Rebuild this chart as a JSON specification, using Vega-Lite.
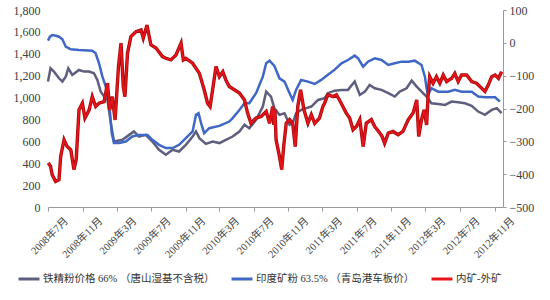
{
  "$schema": "https://vega.github.io/schema/vega-lite/v6.json",
  "width": 455,
  "height": 197,
  "autosize": "none",
  "padding": {"left": 48, "top": 10, "right": 47, "bottom": 93},
  "background": "white",
  "config": {
    "view": {"stroke": null},
    "axis": {"labelFont": "Liberation Serif, Noto Sans CJK SC", "labelColor": "#404040", "grid": false, "title": null},
    "legend": {"labelFont": "Liberation Serif, Noto Sans CJK SC", "labelFontSize": 10.5, "labelColor": "#333333", "labelLimit": 0}
  },
  "datasets": {
    "gray": [
      {"date": "2008-07-01", "value": 1146}, {"date": "2008-07-10", "value": 1268}, {"date": "2008-07-22", "value": 1237},
      {"date": "2008-08-09", "value": 1176}, {"date": "2008-08-21", "value": 1146}, {"date": "2008-09-02", "value": 1191},
      {"date": "2008-09-11", "value": 1268}, {"date": "2008-09-25", "value": 1207}, {"date": "2008-10-19", "value": 1252},
      {"date": "2008-11-06", "value": 1237}, {"date": "2008-11-24", "value": 1237}, {"date": "2008-12-11", "value": 1222},
      {"date": "2008-12-23", "value": 1161}, {"date": "2009-01-04", "value": 1054}, {"date": "2009-01-16", "value": 1009},
      {"date": "2009-01-28", "value": 978}, {"date": "2009-02-09", "value": 766}, {"date": "2009-02-20", "value": 598},
      {"date": "2009-03-22", "value": 614}, {"date": "2009-04-15", "value": 659}, {"date": "2009-05-02", "value": 690},
      {"date": "2009-05-20", "value": 644}, {"date": "2009-06-13", "value": 659}, {"date": "2009-07-06", "value": 598},
      {"date": "2009-07-30", "value": 523}, {"date": "2009-08-23", "value": 477}, {"date": "2009-09-16", "value": 523},
      {"date": "2009-10-09", "value": 507}, {"date": "2009-11-02", "value": 568}, {"date": "2009-11-26", "value": 644},
      {"date": "2009-12-08", "value": 690}, {"date": "2009-12-20", "value": 629}, {"date": "2010-01-12", "value": 577},
      {"date": "2010-02-05", "value": 598}, {"date": "2010-03-01", "value": 584}, {"date": "2010-03-24", "value": 614},
      {"date": "2010-04-17", "value": 644}, {"date": "2010-05-11", "value": 690}, {"date": "2010-05-29", "value": 751},
      {"date": "2010-06-15", "value": 720}, {"date": "2010-07-09", "value": 796}, {"date": "2010-08-02", "value": 918},
      {"date": "2010-08-14", "value": 1054}, {"date": "2010-08-31", "value": 1009}, {"date": "2010-09-12", "value": 903},
      {"date": "2010-09-30", "value": 842}, {"date": "2010-10-18", "value": 857}, {"date": "2010-11-05", "value": 751},
      {"date": "2010-11-16", "value": 766}, {"date": "2010-11-28", "value": 857}, {"date": "2010-12-16", "value": 887},
      {"date": "2011-01-03", "value": 903}, {"date": "2011-01-21", "value": 918}, {"date": "2011-02-14", "value": 978},
      {"date": "2011-03-09", "value": 994}, {"date": "2011-03-21", "value": 1040}, {"date": "2011-04-14", "value": 1063},
      {"date": "2011-05-08", "value": 1070}, {"date": "2011-05-31", "value": 1070}, {"date": "2011-06-24", "value": 1146},
      {"date": "2011-07-12", "value": 1024}, {"date": "2011-07-30", "value": 1054}, {"date": "2011-08-16", "value": 1115},
      {"date": "2011-09-03", "value": 1085}, {"date": "2011-09-27", "value": 1070}, {"date": "2011-10-21", "value": 1040},
      {"date": "2011-11-13", "value": 1009}, {"date": "2011-12-01", "value": 1054}, {"date": "2011-12-25", "value": 1085},
      {"date": "2012-01-12", "value": 1155}, {"date": "2012-01-30", "value": 1100}, {"date": "2012-02-16", "value": 1054},
      {"date": "2012-03-05", "value": 1009}, {"date": "2012-03-22", "value": 948}, {"date": "2012-04-15", "value": 942},
      {"date": "2012-05-09", "value": 933}, {"date": "2012-06-02", "value": 963}, {"date": "2012-06-25", "value": 957},
      {"date": "2012-07-19", "value": 948}, {"date": "2012-08-12", "value": 925}, {"date": "2012-09-04", "value": 872},
      {"date": "2012-09-28", "value": 842}, {"date": "2012-10-22", "value": 887}, {"date": "2012-11-09", "value": 903},
      {"date": "2012-11-26", "value": 857}
    ],
    "blue": [
      {"date": "2008-07-01", "value": 1520}, {"date": "2008-07-08", "value": 1556}, {"date": "2008-07-16", "value": 1571},
      {"date": "2008-07-29", "value": 1565}, {"date": "2008-08-09", "value": 1556}, {"date": "2008-08-21", "value": 1532},
      {"date": "2008-09-02", "value": 1465}, {"date": "2008-09-20", "value": 1441}, {"date": "2008-10-19", "value": 1435},
      {"date": "2008-12-05", "value": 1428}, {"date": "2008-12-17", "value": 1404}, {"date": "2008-12-29", "value": 1313},
      {"date": "2009-01-10", "value": 1191}, {"date": "2009-01-22", "value": 1100}, {"date": "2009-02-02", "value": 990},
      {"date": "2009-02-12", "value": 675}, {"date": "2009-02-20", "value": 584}, {"date": "2009-03-10", "value": 584},
      {"date": "2009-04-03", "value": 598}, {"date": "2009-04-26", "value": 644}, {"date": "2009-05-20", "value": 659},
      {"date": "2009-06-19", "value": 659}, {"date": "2009-07-06", "value": 614}, {"date": "2009-07-30", "value": 568},
      {"date": "2009-08-23", "value": 538}, {"date": "2009-09-16", "value": 538}, {"date": "2009-10-09", "value": 568},
      {"date": "2009-11-02", "value": 629}, {"date": "2009-11-26", "value": 690}, {"date": "2009-12-08", "value": 842},
      {"date": "2009-12-17", "value": 857}, {"date": "2009-12-26", "value": 766}, {"date": "2010-01-06", "value": 675},
      {"date": "2010-01-24", "value": 720}, {"date": "2010-03-01", "value": 741}, {"date": "2010-04-05", "value": 781},
      {"date": "2010-04-17", "value": 812}, {"date": "2010-05-11", "value": 887}, {"date": "2010-05-29", "value": 948},
      {"date": "2010-06-15", "value": 948}, {"date": "2010-07-09", "value": 1040}, {"date": "2010-08-02", "value": 1191},
      {"date": "2010-08-14", "value": 1313}, {"date": "2010-08-26", "value": 1337}, {"date": "2010-09-12", "value": 1290},
      {"date": "2010-09-30", "value": 1176}, {"date": "2010-10-18", "value": 1146}, {"date": "2010-11-05", "value": 1040},
      {"date": "2010-11-16", "value": 978}, {"date": "2010-11-28", "value": 1070}, {"date": "2010-12-16", "value": 1161},
      {"date": "2011-01-09", "value": 1146}, {"date": "2011-02-02", "value": 1124}, {"date": "2011-02-25", "value": 1161},
      {"date": "2011-03-21", "value": 1209}, {"date": "2011-04-14", "value": 1255}, {"date": "2011-05-08", "value": 1313},
      {"date": "2011-05-31", "value": 1343}, {"date": "2011-06-24", "value": 1383}, {"date": "2011-07-06", "value": 1359},
      {"date": "2011-07-24", "value": 1282}, {"date": "2011-08-10", "value": 1328}, {"date": "2011-09-03", "value": 1359},
      {"date": "2011-09-27", "value": 1343}, {"date": "2011-10-21", "value": 1298}, {"date": "2011-11-13", "value": 1313},
      {"date": "2011-12-07", "value": 1328}, {"date": "2011-12-31", "value": 1328}, {"date": "2012-01-23", "value": 1337},
      {"date": "2012-02-16", "value": 1298}, {"date": "2012-02-28", "value": 1191}, {"date": "2012-03-05", "value": 1085},
      {"date": "2012-03-10", "value": 1024}, {"date": "2012-03-22", "value": 1085}, {"date": "2012-04-15", "value": 1054},
      {"date": "2012-05-21", "value": 1054}, {"date": "2012-06-13", "value": 1070}, {"date": "2012-07-07", "value": 1054},
      {"date": "2012-08-12", "value": 1054}, {"date": "2012-09-04", "value": 1009}, {"date": "2012-09-28", "value": 1003},
      {"date": "2012-11-03", "value": 1003}, {"date": "2012-11-20", "value": 963}
    ],
    "red": [
      {"date": "2008-07-02", "value": -366}, {"date": "2008-07-10", "value": -376}, {"date": "2008-07-16", "value": -402},
      {"date": "2008-07-28", "value": -422}, {"date": "2008-08-09", "value": -417}, {"date": "2008-08-15", "value": -346},
      {"date": "2008-08-27", "value": -295}, {"date": "2008-09-07", "value": -316}, {"date": "2008-09-20", "value": -326},
      {"date": "2008-10-01", "value": -386}, {"date": "2008-10-09", "value": -356}, {"date": "2008-10-19", "value": -204},
      {"date": "2008-10-31", "value": -184}, {"date": "2008-11-09", "value": -229}, {"date": "2008-11-24", "value": -204},
      {"date": "2008-12-05", "value": -164}, {"date": "2008-12-17", "value": -194}, {"date": "2008-12-29", "value": -184},
      {"date": "2009-01-16", "value": -179}, {"date": "2009-01-28", "value": -123}, {"date": "2009-02-05", "value": -204},
      {"date": "2009-02-14", "value": -164}, {"date": "2009-02-24", "value": -235}, {"date": "2009-03-08", "value": -72},
      {"date": "2009-03-17", "value": -1}, {"date": "2009-03-25", "value": -133}, {"date": "2009-03-31", "value": -164},
      {"date": "2009-04-09", "value": -32}, {"date": "2009-04-21", "value": 19}, {"date": "2009-05-09", "value": 34},
      {"date": "2009-05-27", "value": 39}, {"date": "2009-06-04", "value": 14}, {"date": "2009-06-17", "value": 54},
      {"date": "2009-07-01", "value": -6}, {"date": "2009-07-19", "value": -16}, {"date": "2009-08-11", "value": -42},
      {"date": "2009-08-23", "value": -47}, {"date": "2009-09-10", "value": -52}, {"date": "2009-09-28", "value": -37},
      {"date": "2009-10-16", "value": -1}, {"date": "2009-10-24", "value": -52}, {"date": "2009-11-02", "value": -47},
      {"date": "2009-11-26", "value": -62}, {"date": "2009-12-20", "value": -93}, {"date": "2010-01-06", "value": -143},
      {"date": "2010-01-18", "value": -184}, {"date": "2010-01-27", "value": -194}, {"date": "2010-02-05", "value": -143},
      {"date": "2010-02-17", "value": -72}, {"date": "2010-03-01", "value": -103}, {"date": "2010-03-13", "value": -88},
      {"date": "2010-03-24", "value": -113}, {"date": "2010-04-05", "value": -133}, {"date": "2010-04-23", "value": -143},
      {"date": "2010-05-11", "value": -153}, {"date": "2010-05-29", "value": -174}, {"date": "2010-06-09", "value": -214},
      {"date": "2010-06-21", "value": -245}, {"date": "2010-07-09", "value": -229}, {"date": "2010-07-27", "value": -224},
      {"date": "2010-08-14", "value": -209}, {"date": "2010-08-26", "value": -245}, {"date": "2010-09-06", "value": -194},
      {"date": "2010-09-10", "value": -250}, {"date": "2010-09-14", "value": -204}, {"date": "2010-09-18", "value": -295},
      {"date": "2010-09-30", "value": -346}, {"date": "2010-10-08", "value": -386}, {"date": "2010-10-15", "value": -316},
      {"date": "2010-10-24", "value": -245}, {"date": "2010-11-05", "value": -234}, {"date": "2010-11-16", "value": -245},
      {"date": "2010-11-25", "value": -316}, {"date": "2010-12-04", "value": -194}, {"date": "2010-12-14", "value": -143},
      {"date": "2010-12-26", "value": -204}, {"date": "2011-01-09", "value": -245}, {"date": "2011-01-21", "value": -219},
      {"date": "2011-02-02", "value": -245}, {"date": "2011-02-19", "value": -229}, {"date": "2011-03-03", "value": -194},
      {"date": "2011-03-09", "value": -184}, {"date": "2011-03-21", "value": -158}, {"date": "2011-04-08", "value": -164},
      {"date": "2011-04-20", "value": -158}, {"date": "2011-05-01", "value": -174}, {"date": "2011-05-13", "value": -194},
      {"date": "2011-05-25", "value": -214}, {"date": "2011-06-06", "value": -229}, {"date": "2011-06-18", "value": -265},
      {"date": "2011-06-30", "value": -255}, {"date": "2011-07-12", "value": -234}, {"date": "2011-07-24", "value": -316},
      {"date": "2011-08-04", "value": -245}, {"date": "2011-08-22", "value": -234}, {"date": "2011-09-03", "value": -255},
      {"date": "2011-09-17", "value": -270}, {"date": "2011-09-29", "value": -285}, {"date": "2011-10-08", "value": -306},
      {"date": "2011-10-21", "value": -275}, {"date": "2011-11-07", "value": -270}, {"date": "2011-11-25", "value": -280},
      {"date": "2011-12-12", "value": -270}, {"date": "2011-12-31", "value": -234}, {"date": "2012-01-17", "value": -214},
      {"date": "2012-01-30", "value": -174}, {"date": "2012-02-06", "value": -285}, {"date": "2012-02-16", "value": -234},
      {"date": "2012-02-25", "value": -204}, {"date": "2012-03-05", "value": -250}, {"date": "2012-03-10", "value": -164},
      {"date": "2012-03-16", "value": -103}, {"date": "2012-03-28", "value": -123}, {"date": "2012-04-09", "value": -103},
      {"date": "2012-04-21", "value": -123}, {"date": "2012-05-03", "value": -98}, {"date": "2012-05-15", "value": -118},
      {"date": "2012-06-02", "value": -108}, {"date": "2012-06-13", "value": -93}, {"date": "2012-06-25", "value": -118},
      {"date": "2012-07-07", "value": -98}, {"date": "2012-07-25", "value": -98}, {"date": "2012-08-12", "value": -118},
      {"date": "2012-08-29", "value": -123}, {"date": "2012-09-16", "value": -138}, {"date": "2012-09-28", "value": -148},
      {"date": "2012-10-10", "value": -128}, {"date": "2012-10-22", "value": -103}, {"date": "2012-11-03", "value": -98},
      {"date": "2012-11-15", "value": -108}, {"date": "2012-11-26", "value": -88}
    ]
  },
  "encoding": {
    "x": {
      "field": "date",
      "type": "temporal",
      "scale": {"domain": [{"year": 2008, "month": 7, "date": 1}, {"year": 2012, "month": 12, "date": 1}]},
      "axis": {
        "values": [
          {"year": 2008, "month": 7, "date": 1}, {"year": 2008, "month": 11, "date": 1},
          {"year": 2009, "month": 3, "date": 1}, {"year": 2009, "month": 7, "date": 1}, {"year": 2009, "month": 11, "date": 1},
          {"year": 2010, "month": 3, "date": 1}, {"year": 2010, "month": 7, "date": 1}, {"year": 2010, "month": 11, "date": 1},
          {"year": 2011, "month": 3, "date": 1}, {"year": 2011, "month": 7, "date": 1}, {"year": 2011, "month": 11, "date": 1},
          {"year": 2012, "month": 3, "date": 1}, {"year": 2012, "month": 7, "date": 1}, {"year": 2012, "month": 11, "date": 1}
        ],
        "format": "%Y年%-m月",
        "labelAngle": -45,
        "labelAlign": "right",
        "labelBaseline": "middle",
        "labelOffset": 18,
        "labelPadding": 8,
        "labelFontSize": 10.5,
        "labelOverlap": false,
        "labelFlush": false,
        "domainColor": "#999999",
        "tickColor": "#999999",
        "tickSize": 4
      }
    }
  },
  "layer": [
    {
      "encoding": {
        "y": {
          "field": "value",
          "type": "quantitative",
          "scale": {"domain": [0, 1800], "nice": false, "zero": false},
          "axis": {
            "orient": "left",
            "values": [0, 200, 400, 600, 800, 1000, 1200, 1400, 1600, 1800],
            "format": ",.0f",
            "domain": false,
            "ticks": false,
            "labelPadding": 8,
            "labelFontSize": 12
          }
        }
      },
      "layer": [
        {
          "data": {"name": "gray"},
          "mark": {"type": "line", "strokeWidth": 2.5},
          "encoding": {
            "color": {
              "datum": "铁精粉价格 66% （唐山湿基不含税）",
              "type": "nominal",
              "scale": {
                "domain": ["铁精粉价格 66% （唐山湿基不含税）", "印度矿粉 63.5% （青岛港车板价）", "内矿-外矿"],
                "range": ["#5E5E7E", "#3F67C6", "#E8141C"]
              },
              "legend": {
                "title": null,
                "orient": "none",
                "legendX": -31,
                "legendY": 257,
                "direction": "horizontal",
                "columns": 3,
                "columnPadding": 10,
                "symbolType": "stroke",
                "symbolSize": 440,
                "symbolStrokeWidth": 3,
                "labelOffset": 2,
                "labelLimit": 0,
                "padding": 0
              }
            }
          }
        },
        {
          "data": {"name": "blue"},
          "mark": {"type": "line", "strokeWidth": 2.5},
          "encoding": {"color": {"datum": "印度矿粉 63.5% （青岛港车板价）", "type": "nominal"}}
        }
      ]
    },
    {
      "data": {"name": "red"},
      "encoding": {
        "y": {
          "field": "value",
          "type": "quantitative",
          "scale": {"domain": [-500, 100], "nice": false, "zero": false},
          "axis": {
            "orient": "right",
            "values": [-500, -400, -300, -200, -100, 0, 100],
            "domain": true,
            "domainColor": "#999999",
            "ticks": true,
            "tickColor": "#999999",
            "tickSize": 3,
            "labelPadding": 3,
            "labelFontSize": 12
          }
        }
      },
      "layer": [
        {"mark": {"type": "line", "strokeWidth": 3.4, "color": "#A50A0A"}},
        {
          "mark": {"type": "line", "strokeWidth": 1.8},
          "encoding": {"color": {"datum": "内矿-外矿", "type": "nominal"}}
        }
      ]
    }
  ],
  "resolve": {"scale": {"y": "independent"}}
}
